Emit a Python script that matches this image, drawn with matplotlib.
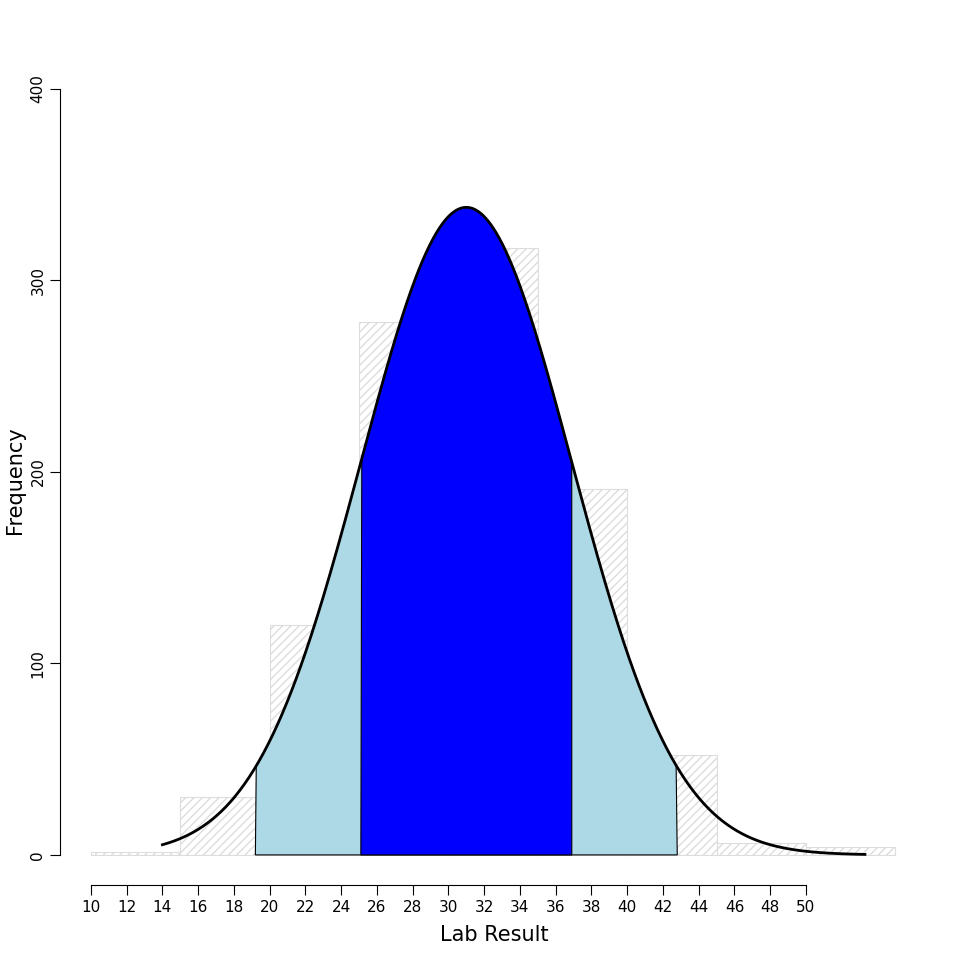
import numpy as np
import matplotlib
matplotlib.use('Agg')
import matplotlib.pyplot as plt

# histogram of lab results
bin_left = [10, 15, 20, 25, 30, 35, 40, 45, 50]
counts = [1.5, 30, 120, 278, 317, 191, 52, 6, 4]
BIN_W = 5

# normal curve parameters
MEAN = 31.0
SD = 5.9
N = 1000
CURVE_FROM, CURVE_TO = 14.0, 53.3

xticks = list(range(10, 51, 2))
yticks = [0, 100, 200, 300, 400]

fig = plt.figure(figsize=(9.6, 9.6), dpi=100)
ax = fig.add_axes([60 / 960, 75 / 960, 860 / 960, 825 / 960])
ax.set_xlim(8.27, 56.38)
ax.set_ylim(-15.7, 415)

ax.bar(bin_left, counts, width=BIN_W, align='edge', fill=False,
       edgecolor='#dddddd', hatch='////', linewidth=0.8)

x = np.linspace(CURVE_FROM, CURVE_TO, 600)
y = N * BIN_W * np.exp(-0.5 * ((x - MEAN) / SD) ** 2) / (SD * np.sqrt(2 * np.pi))

def shade(lo, hi, color):
    m = (x >= lo) & (x <= hi)
    xs = np.concatenate([[lo], x[m], [hi]])
    ys = np.concatenate([[0], y[m], [0]])
    ax.fill(xs, ys, facecolor=color, edgecolor='black', linewidth=0.8)

shade(MEAN - 2 * SD, MEAN + 2 * SD, '#add8e6')
shade(MEAN - SD, MEAN + SD, '#0000ff')
ax.plot(x, y, color='black', linewidth=2)

for s in ['top', 'right']:
    ax.spines[s].set_visible(False)
ax.spines['left'].set_bounds(0, 400)
ax.spines['bottom'].set_bounds(10, 50)
ax.set_xticks(xticks)
ax.set_yticks(yticks)
ax.tick_params(length=7, labelsize=11)
for lab in ax.get_yticklabels():
    lab.set_rotation(90)
    lab.set_va('center')

fig.text(15 / 960, 0.5, 'Frequency', rotation=90, fontsize=15,
         ha='center', va='center')
fig.text(494 / 960, 1 - 935 / 960, 'Lab Result', fontsize=15,
         ha='center', va='center')

fig.savefig('out.png', dpi=100, facecolor='white')
